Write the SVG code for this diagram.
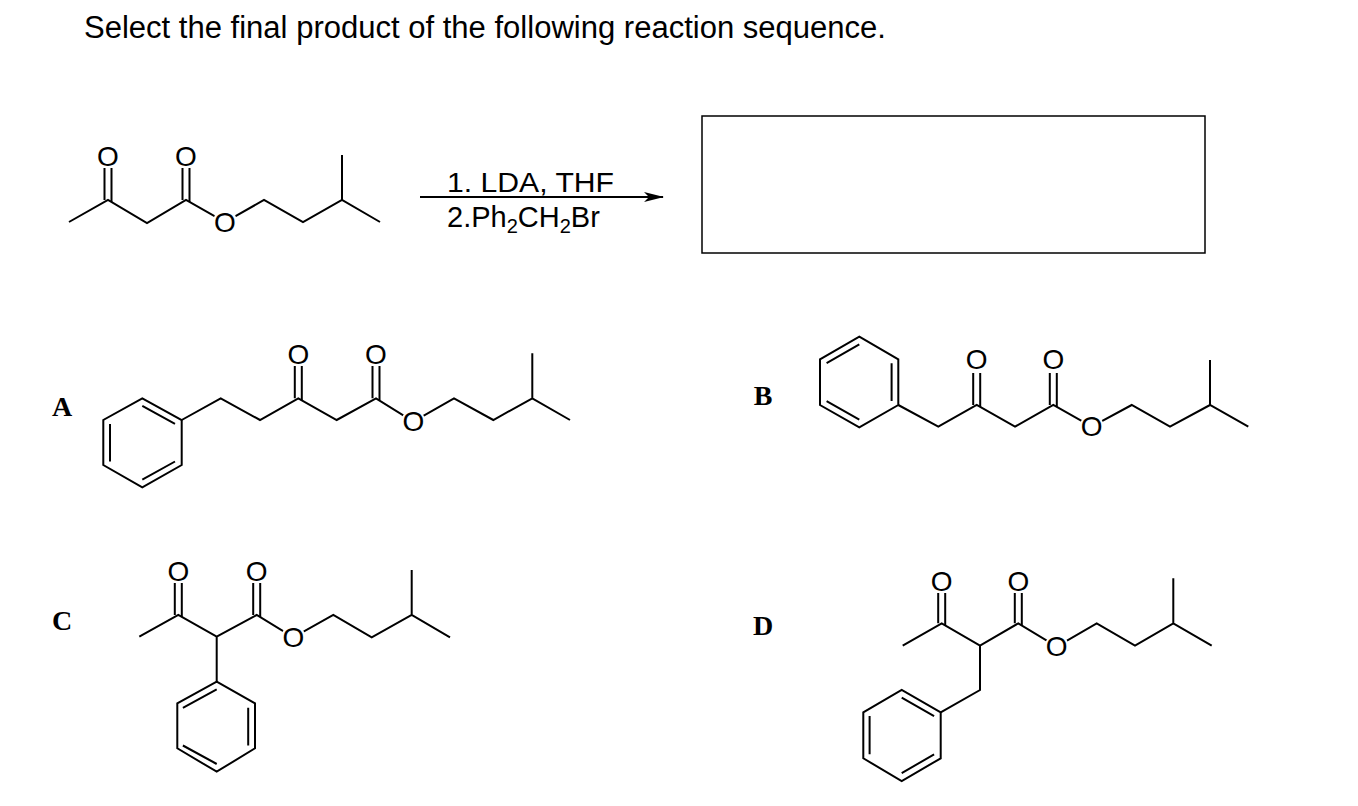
<svg xmlns="http://www.w3.org/2000/svg" width="1358" height="806" viewBox="0 0 1358 806">
<style>
.b{fill:none;stroke:#000;stroke-width:2;stroke-linejoin:miter}
.o{font-family:"Liberation Sans",Arial,sans-serif;font-size:28px;text-anchor:middle;dominant-baseline:central}
.oc{fill:#fff;stroke:none}
.lab{font-family:"Liberation Serif","Times New Roman",serif;font-weight:bold;font-size:28px;text-anchor:middle;dominant-baseline:central}
.t{font-family:"Liberation Sans",Arial,sans-serif}
</style>
<defs>
<marker id="ah" markerWidth="20" markerHeight="10" refX="19" refY="5" orient="auto" markerUnits="userSpaceOnUse"><path d="M0,0 L20,5 L0,10 L5,5 Z" fill="#000"/></marker>
</defs>
<rect width="1358" height="806" fill="#fff"/>
<text class="t" x="84" y="38" font-size="31" textLength="802" lengthAdjust="spacingAndGlyphs">Select the final product of the following reaction sequence.</text>

<g id="reactant">
<path class="b" d="M69,222 L108,200 L147,223 L186,200 L225,222 L264,200 L303,222 L342,200 L380,222 M342,200 L342,155"/>
<path class="b" d="M104.5,200 L104.5,168 M111.5,202 L111.5,168 M182.5,200 L182.5,168 M189.5,202 L189.5,168"/>
<circle class="oc" cx="225" cy="222" r="12"/><text class="o" x="225" y="222">O</text>
<circle class="oc" cx="108" cy="156" r="12"/><text class="o" x="108" y="156">O</text>
<circle class="oc" cx="186" cy="156" r="12"/><text class="o" x="186" y="156">O</text>
</g>

<g id="connectors">
<line x1="420" y1="197" x2="663" y2="197" stroke="#000" stroke-width="2" marker-end="url(#ah)"/>
</g>
<g id="reagents">
<text class="t" x="447" y="192" font-size="28" textLength="167" lengthAdjust="spacingAndGlyphs">1. LDA, THF</text>
<text class="t" x="447" y="227" font-size="29">2.Ph<tspan font-size="20" dy="6">2</tspan><tspan dy="-6">CH</tspan><tspan font-size="20" dy="6">2</tspan><tspan dy="-6">Br</tspan></text>
</g>
<g id="answerbox"><rect x="702" y="116" width="503" height="137" fill="none" stroke="#000" stroke-width="1.5"/></g>

<g id="A">
<text class="lab" x="62" y="406">A</text>
<path class="b" d="M142.3,398.3 L181.7,420 L181.7,465 L142.3,487.3 L103.3,465 L103.3,420 Z"/>
<path class="b" d="M142.3,405.8 L175,423.9 M175,461.5 L142.3,479.6 M110,461.5 L110,423.9"/>
<path class="b" d="M181.7,420 L220.7,398.3 L260,420 L298.3,398.3 L336.7,420 L376,398.3 L413.3,421.7 L454,398.3 L493.3,420 L532.3,398.3 L570,420 M532.3,398.3 L532.3,353.3"/>
<path class="b" d="M294.8,398.3 L294.8,366 M301.8,400.3 L301.8,366 M372.5,398.3 L372.5,366 M379.5,400.3 L379.5,366"/>
<circle class="oc" cx="413.3" cy="421.7" r="12"/><text class="o" x="413.3" y="421.7">O</text>
<circle class="oc" cx="298.3" cy="354" r="12"/><text class="o" x="298.3" y="354">O</text>
<circle class="oc" cx="376" cy="354" r="12"/><text class="o" x="376" y="354">O</text>
</g>

<g id="B">
<text class="lab" x="763" y="395">B</text>
<path class="b" d="M859.3,336.7 L898.3,359.3 L898.3,405 L859.3,427.3 L820,405 L820,359.3 Z"/>
<path class="b" d="M826.6,363.2 L859.3,344.4 M891.6,363.2 L891.6,401.1 M826.6,401.1 L859.3,419.6"/>
<path class="b" d="M898.3,405 L938.3,426.7 L976.7,405 L1015,426.7 L1053.3,405 L1091.7,426.7 L1131.7,405 L1170,426.7 L1210,405 L1248.3,426.7 M1210,405 L1210,360"/>
<path class="b" d="M973.2,405 L973.2,373 M980.2,407 L980.2,373 M1049.8,405 L1049.8,373 M1056.8,407 L1056.8,373"/>
<circle class="oc" cx="1091.7" cy="426.7" r="12"/><text class="o" x="1091.7" y="426.7">O</text>
<circle class="oc" cx="976.7" cy="359" r="12"/><text class="o" x="976.7" y="359">O</text>
<circle class="oc" cx="1053.3" cy="359" r="12"/><text class="o" x="1053.3" y="359">O</text>
</g>

<g id="C">
<text class="lab" x="62" y="620">C</text>
<path class="b" d="M139.3,636.7 L178.3,615 L216.7,636.7 L256.7,615 L293.3,637.3 L333.3,615 L371.7,637.3 L411.7,615 L450,637.3 M411.7,615 L411.7,570 M216.7,636.7 L216.7,681.7"/>
<path class="b" d="M174.8,615 L174.8,583 M181.8,617 L181.8,583 M253.2,615 L253.2,583 M260.2,617 L260.2,583"/>
<path class="b" d="M216.7,681.7 L255,703.3 L255,748.3 L216.7,771.7 L177.3,748.3 L177.3,703.3 Z"/>
<path class="b" d="M182.9,707.8 L216.7,689.3 M248.2,707.8 L248.2,745.5 M182.9,745.5 L216.7,764"/>
<circle class="oc" cx="293.3" cy="637.3" r="12"/><text class="o" x="293.3" y="637.3">O</text>
<circle class="oc" cx="178.3" cy="571" r="12"/><text class="o" x="178.3" y="571">O</text>
<circle class="oc" cx="256.7" cy="571" r="12"/><text class="o" x="256.7" y="571">O</text>
</g>

<g id="D">
<text class="lab" x="763" y="625">D</text>
<path class="b" d="M902.7,645.7 L941.7,623.3 L980,645.7 L1018.3,623.3 L1056.7,646.7 L1096.7,623.3 L1135,645.7 L1173.3,623.3 L1211.7,645.7 M1173.3,623.3 L1173.3,578.3 M980,645.7 L980,690 L940.7,712.3"/>
<path class="b" d="M938.2,623.3 L938.2,593 M945.2,625.3 L945.2,593 M1014.8,623.3 L1014.8,593 M1021.8,625.3 L1021.8,593"/>
<path class="b" d="M940.7,712.3 L901.7,690 L863.3,712.3 L863.3,758.3 L901.7,781 L940.7,758.3 Z"/>
<path class="b" d="M901.7,697.7 L934.1,716.1 M869.6,716.1 L869.6,754.3 M901.7,773.2 L934.1,754.3"/>
<circle class="oc" cx="1056.7" cy="646.7" r="12"/><text class="o" x="1056.7" y="646.7">O</text>
<circle class="oc" cx="941.7" cy="581" r="12"/><text class="o" x="941.7" y="581">O</text>
<circle class="oc" cx="1018.3" cy="581" r="12"/><text class="o" x="1018.3" y="581">O</text>
</g>
</svg>
